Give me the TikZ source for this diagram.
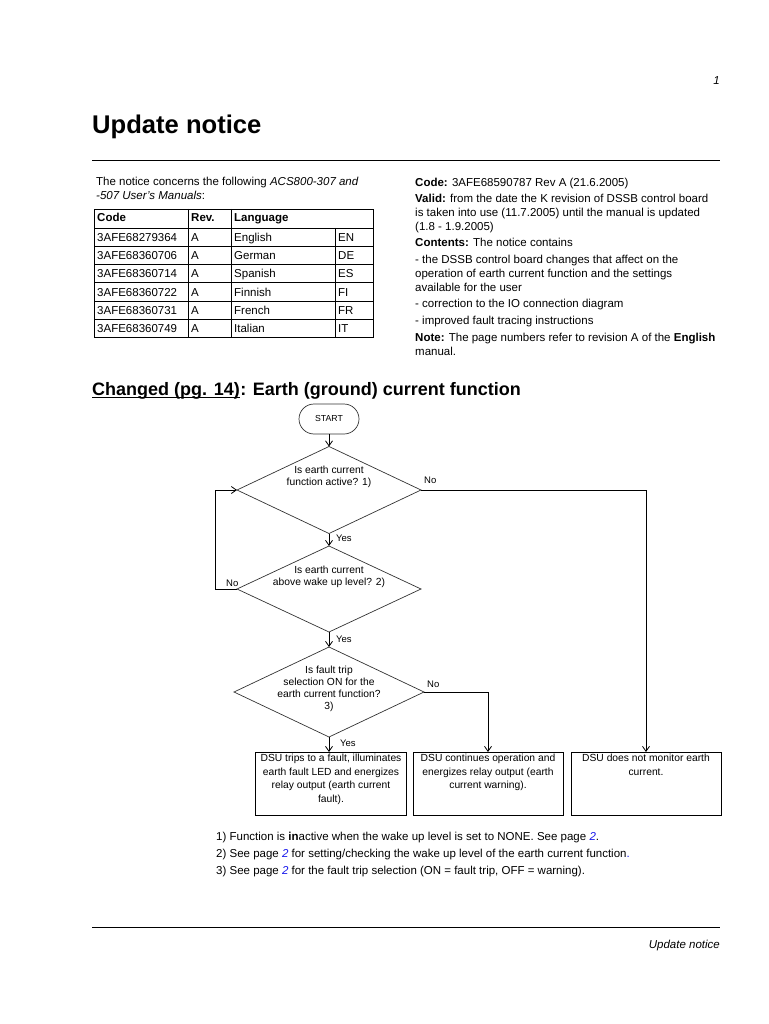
\documentclass[tikz,border=0pt]{standalone}
\usepackage{fontspec}
\setmainfont{Liberation Sans}
\usetikzlibrary{arrows.meta,shapes.geometric}
\definecolor{linkblue}{RGB}{25,25,235}
\newcommand{\pgref}{{\color{linkblue}\textit{2}}}
\begin{document}
\begin{tikzpicture}[x=1pt,y=-1pt,
 txt/.style={anchor=base west, inner sep=0, font=\fontsize{11.5}{14}\selectfont},
 hdr/.style={anchor=base west, inner sep=0, font=\fontsize{11.5}{14}\selectfont\bfseries},
 ftext/.style={inner sep=0, font=\fontsize{10.3}{12}\selectfont, align=center},
 btext/.style={inner sep=0, anchor=north, font=\fontsize{10.3}{13.5}\selectfont, align=center},
 flab/.style={anchor=base west, inner sep=0, font=\fontsize{9.5}{11}\selectfont},
 dia/.style={diamond, draw=black!80, line width=0.7pt, inner sep=0, outer sep=0},
 outbox/.style={draw, line width=0.9pt, minimum width=150pt, minimum height=63pt, inner sep=0, outer sep=0},
 conn/.style={line width=0.8pt, -{Straight Barb[length=5pt,width=7pt]}},
 rule/.style={line width=1pt},
 grid/.style={line width=0.9pt},
]
\useasboundingbox (0,0) rectangle (768,1024);
% header
\node[anchor=base east, inner sep=0, font=\fontsize{11.5}{14}\selectfont\itshape] (pno) at (720,85) {1};
\node[anchor=base west, inner sep=0, font=\fontsize{25.6}{30}\selectfont\bfseries] (title) at (92,134) {Update notice};
\coordinate (r1a) at (92,161); \coordinate (r1b) at (720,161);
\draw[rule] (r1a) -- (r1b);
% intro
\node[txt] (i1) at (96,186) {The notice concerns the following \textit{ACS800-307 and}};
\node[txt] (i2) at (96,200) {\textit{-507 User's Manuals}:};
% table
\draw[grid] (94,209) rectangle (373,337.5);
\foreach \yy in {228,246.3,264.5,282.7,301,319.2} \draw[grid] (94,\yy) -- (373,\yy);
\draw[grid] (188,209) -- (188,337.5);
\draw[grid] (231,209) -- (231,337.5);
\draw[grid] (335,228) -- (335,337.5);
\node[hdr] (hc) at (97,222) {Code};
\node[hdr] (hr) at (191,222) {Rev.};
\node[hdr] (hl) at (234,222) {Language};
\node[txt] (c1) at (97,241.5) {3AFE68279364}; \node[txt] (v1) at (191,241.5) {A}; \node[txt] (l1) at (234,241.5) {English}; \node[txt] (k1) at (338,241.5) {EN};
\node[txt] (c2) at (97,259.7) {3AFE68360706}; \node[txt] (v2) at (191,259.7) {A}; \node[txt] (l2) at (234,259.7) {German}; \node[txt] (k2) at (338,259.7) {DE};
\node[txt] (c3) at (97,277.9) {3AFE68360714}; \node[txt] (v3) at (191,277.9) {A}; \node[txt] (l3) at (234,277.9) {Spanish}; \node[txt] (k3) at (338,277.9) {ES};
\node[txt] (c4) at (97,296.1) {3AFE68360722}; \node[txt] (v4) at (191,296.1) {A}; \node[txt] (l4) at (234,296.1) {Finnish}; \node[txt] (k4) at (338,296.1) {FI};
\node[txt] (c5) at (97,314.3) {3AFE68360731}; \node[txt] (v5) at (191,314.3) {A}; \node[txt] (l5) at (234,314.3) {French}; \node[txt] (k5) at (338,314.3) {FR};
\node[txt] (c6) at (97,332.5) {3AFE68360749}; \node[txt] (v6) at (191,332.5) {A}; \node[txt] (l6) at (234,332.5) {Italian}; \node[txt] (k6) at (338,332.5) {IT};
% right column
\node[txt] (rc1) at (415,187) {\textbf{Code:} 3AFE68590787 Rev A (21.6.2005)};
\node[txt] (rc2) at (415,203) {\textbf{Valid:} from the date the K revision of DSSB control board};
\node[txt] (rc3) at (415,217) {is taken into use (11.7.2005) until the manual is updated};
\node[txt] (rc4) at (415,231) {(1.8 - 1.9.2005)};
\node[txt] (rc5) at (415,247) {\textbf{Contents:} The notice contains};
\node[txt] (rc6) at (415,263) {- the DSSB control board changes that affect on the};
\node[txt] (rc7) at (415,277) {operation of earth current function and the settings};
\node[txt] (rc8) at (415,291) {available for the user};
\node[txt] (rc9) at (415,307) {- correction to the IO connection diagram};
\node[txt] (rc10) at (415,324) {- improved fault tracing instructions};
\node[txt] (rc11) at (415,341) {\textbf{Note:} The page numbers refer to revision A of the \textbf{English}};
\node[txt] (rc12) at (415,355) {manual.};
% section heading
\node[anchor=base west, inner sep=0, font=\fontsize{18}{22}\selectfont\bfseries] (h1) at (92,395) {Changed (pg. 14)};
\node[anchor=base west, inner sep=0, font=\fontsize{18}{22}\selectfont\bfseries] (h2) at (h1.base east) {: Earth (ground) current function};
\draw[line width=1.2pt] ([yshift=-2.2pt]h1.base west) -- ([yshift=-2.2pt]h1.base east);
% flowchart
\node[draw=black!80, line width=0.7pt, rounded corners=15pt, minimum width=60pt, minimum height=30pt, inner sep=0, outer sep=0, font=\fontsize{8.7}{10}\selectfont] (start) at (329,419) {START};
\node[dia, minimum width=184pt, minimum height=87pt] (d1) at (329,490) {};
\node[ftext] (d1t) at (329,477) {Is earth current\\function active? 1)};
\node[dia, minimum width=184pt, minimum height=86pt] (d2) at (329,589) {};
\node[ftext] (d2t) at (329,577) {Is earth current\\above wake up level? 2)};
\node[dia, minimum width=190pt, minimum height=90pt] (d3) at (329,692) {};
\node[ftext] (d3t) at (329,689) {Is fault trip\\selection ON for the\\earth current function?\\3)};
\node[outbox, minimum width=151pt] (b1) at (331,783.5) {};
\node[outbox] (b2) at (488,783.5) {};
\node[outbox] (b3) at (646,783.5) {};
\node[btext] (b1t) at ([yshift=-2pt]b1.north) {DSU trips to a fault, illuminates\\earth fault LED and energizes\\relay output (earth current\\fault).};
\node[btext] (b2t) at ([yshift=-2pt]b2.north) {DSU continues operation and\\energizes relay output (earth\\current warning).};
\node[btext] (b3t) at ([yshift=-2pt]b3.north) {DSU does not monitor earth\\current.};
% connectors
\draw[conn] (start) -- (d1.north);
\draw[conn] (d1.south) -- (d2.north);
\draw[conn] (d2.south) -- (d3.north);
\draw[conn] (d3.south) -- (d3.south |- b1.north);
\coordinate (lp) at (215,589);
\draw[conn] (d2.west) -- (lp) |- (d1.west);
\coordinate (rt) at (646,490);
\draw[conn] (d1.east) -- (rt) -- (b3.north);
\draw[conn] (d3.east) -| (b2.north);
\node[flab] (no1) at (424,483) {No};
\node[flab] (no2) at (226,586) {No};
\node[flab] (no3) at (427,687) {No};
\node[flab] (y1) at (336,541) {Yes};
\node[flab] (y2) at (336,642) {Yes};
\node[flab] (y3) at (340,746) {Yes};
% footnotes
\node[txt] (f1) at (216,840) {1) Function is \textbf{in}active when the wake up level is set to NONE. See page \pgref.};
\node[txt] (f2) at (216,857) {2) See page \pgref{} for setting/checking the wake up level of the earth current function{\color{linkblue}.}};
\node[txt] (f3) at (216,874) {3) See page \pgref{} for the fault trip selection (ON = fault trip, OFF = warning).};
% footer
\coordinate (r2a) at (92,927); \coordinate (r2b) at (720,927);
\draw[rule] (r2a) -- (r2b);
\node[anchor=base east, inner sep=0, font=\fontsize{11.5}{14}\selectfont\itshape] (foot) at (720,948) {Update notice};
\end{tikzpicture}
\end{document}
